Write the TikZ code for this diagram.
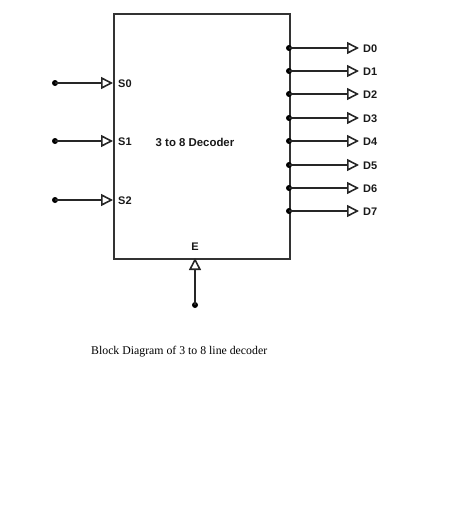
\documentclass[tikz,border=0pt]{standalone}
\usepackage{fontspec}
\setmainfont{Liberation Sans}
\newfontfamily\capfont{Liberation Serif}
\usetikzlibrary{arrows.meta}
\tikzset{
  dotnode/.style={circle,fill=black,inner sep=0pt,minimum size=6pt},
  lab/.style={font=\fontsize{11}{12}\selectfont\bfseries,text=black!90,inner sep=0pt},
  pin/.style={line width=1.7pt,black!85,-{Triangle[open,length=12pt,width=12pt,line width=1.6pt]}}
}
\begin{document}
\begin{tikzpicture}[x=1pt,y=-1pt]
\useasboundingbox (0,0) rectangle (474,527);
\node[draw=black!80,line width=1.9pt,minimum width=176pt,minimum height=245pt,inner sep=0pt,anchor=north west] (dec) at (113,13) {};
\node[lab,font=\fontsize{11.4}{12}\selectfont\bfseries] (title) at (195,142) {3 to 8 Decoder};
\foreach \n/\y in {0/83,1/141,2/200}{
  \node[dotnode] (in\n) at (55,\y) {};
  \coordinate (pi\n) at (113,\y);
  \draw[pin] (in\n.center) -- (pi\n);
  \node[lab,anchor=west] (s\n) at (118,\y+0.5) {S\n};
}
\foreach \n/\y in {0/48,1/71,2/94,3/118,4/141,5/165,6/188,7/211}{
  \node[dotnode] (out\n) at (289,\y) {};
  \coordinate (po\n) at (359,\y);
  \draw[pin] (out\n.center) -- (po\n);
  \node[lab,anchor=west] (d\n) at (363,\y+0.5) {D\n};
}
\node[dotnode] (en) at (195,305) {};
\coordinate (pe) at (195,258);
\draw[pin] (en.center) -- (pe);
\node[lab] (e) at (195,246.5) {E};
\node[inner sep=0pt,anchor=west,font=\capfont\fontsize{11.8}{14}\selectfont] (cap) at (91,352) {Block Diagram of 3 to 8 line decoder};
\end{tikzpicture}
\end{document}
